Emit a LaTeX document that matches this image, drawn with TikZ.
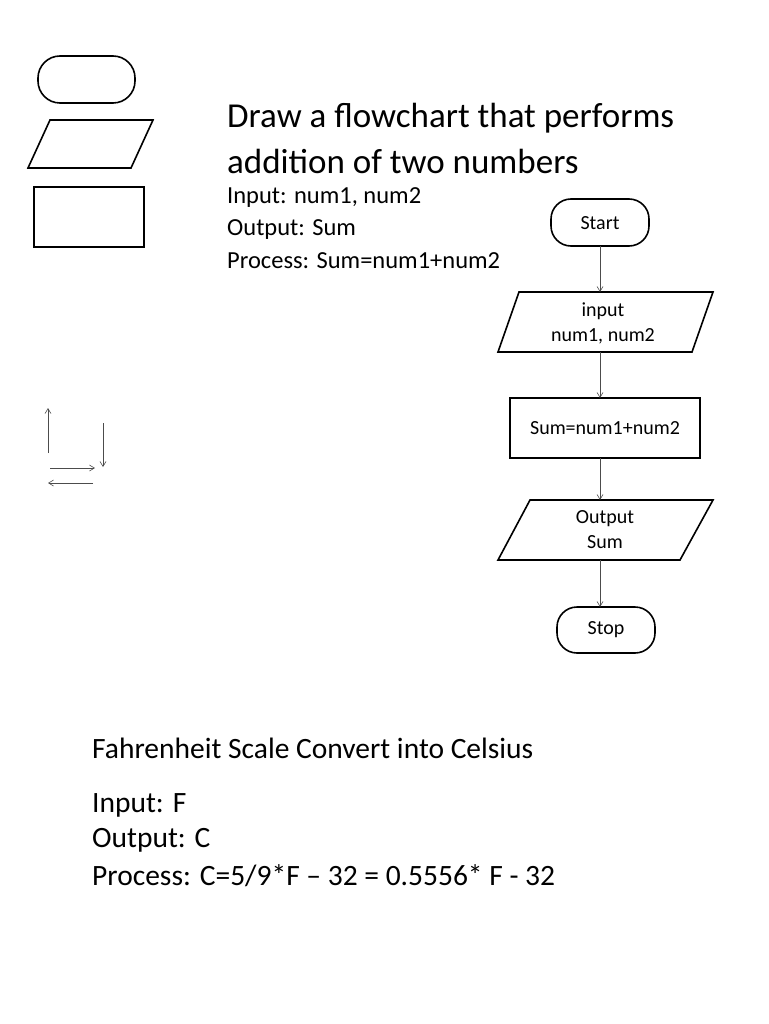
\documentclass[tikz,border=0pt]{standalone}
\usepackage{fontspec}
\setmainfont{Carlito}
\usetikzlibrary{arrows.meta}
\begin{document}
\begin{tikzpicture}[x=1pt,y=-1pt,
  ln/.style={draw=black,line width=1.6pt},
  conn/.style={draw=black!70,line width=0.6pt,-{Straight Barb[length=5pt,width=6pt]}},
  fc/.style={font=\fontsize{20}{25}\selectfont,align=center},
  big/.style={font=\fontsize{35}{42}\selectfont,anchor=west,inner sep=0pt},
  mid/.style={font=\fontsize{24.5}{29}\selectfont,anchor=west,inner sep=0pt},
  lg/.style={font=\fontsize{29.5}{35}\selectfont,anchor=west,inner sep=0pt}]
\useasboundingbox (0,0) rectangle (768,1024);
% legend shapes
\draw[ln,rounded corners=22pt] (38,56) rectangle (135,103);
\draw[ln] (50,120) -- (153,120) -- (131,168) -- (28,168) -- cycle;
\draw[ln] (34,187) rectangle (144,247);
% title texts
\node[big] (t1) at (227,118) {Draw a flowchart that performs};
\node[big] (t2) at (227,161) {addition of two numbers};
\node[mid] (i1) at (227,198) {Input: num1, num2};
\node[mid] (i2) at (227,230) {Output: Sum};
\node[mid] (i3) at (227,261) {Process: Sum=num1+num2};
% flowchart
\draw[ln,rounded corners=20pt] (551,199) rectangle (649,246);
\node[fc] (start) at (600,223) {Start};
\coordinate (sb) at (600,246);
\draw[ln] (519,292) -- (713,292) -- (692,352) -- (498,352) -- cycle;
\node[fc] (inp) at (603,323) {input\\num1, num2};
\coordinate (it) at (600,292); \coordinate (ib) at (600,352);
\draw[ln] (510,398) rectangle (700,458);
\node[fc] (proc) at (605,428) {Sum=num1+num2};
\coordinate (pt) at (600,398); \coordinate (pb) at (600,458);
\draw[ln] (530,500) -- (713,500) -- (680,560) -- (498,560) -- cycle;
\node[fc] (out) at (605,530) {Output\\Sum};
\coordinate (ot) at (600,500); \coordinate (ob) at (600,560);
\draw[ln,rounded corners=20pt] (557,607) rectangle (655,653);
\node[fc] (stop) at (606,630) {Stop};
\coordinate (st) at (600,607);
\draw[conn] (sb) -- (it);
\draw[conn] (ib) -- (pt);
\draw[conn] (pb) -- (ot);
\draw[conn] (ob) -- (st);
% legend arrows
\coordinate (a1) at (48,453); \coordinate (a2) at (48,408);
\coordinate (b1) at (103,423); \coordinate (b2) at (103,467);
\coordinate (c1) at (50,468); \coordinate (c2) at (95,468);
\coordinate (d1) at (93,483); \coordinate (d2) at (48,483);
\draw[conn] (a1) -- (a2);
\draw[conn] (b1) -- (b2);
\draw[conn] (c1) -- (c2);
\draw[conn] (d1) -- (d2);
% bottom texts
\node[lg] (f1) at (92,748) {Fahrenheit Scale Convert into Celsius};
\node[lg] (f2) at (92,805) {Input: F};
\node[lg] (f3) at (92,840) {Output: C};
\node[lg] (f4) at (92,876) {Process: C=5/9*F – 32 = 0.5556* F - 32};
\end{tikzpicture}
\end{document}
